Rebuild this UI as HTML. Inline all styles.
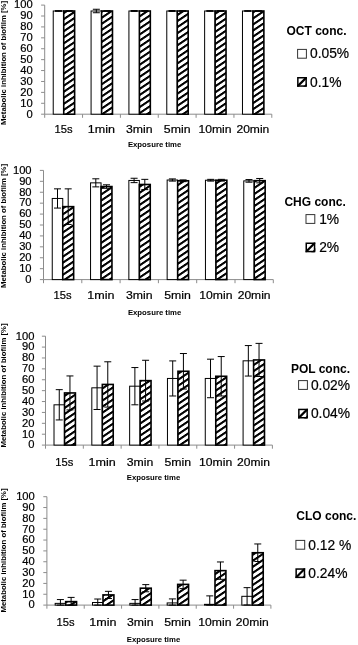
<!DOCTYPE html>
<html><head><meta charset="utf-8"><title>Metabolic inhibition of biofilm</title>
<style>
html,body{margin:0;padding:0;background:#fff;}
body{width:358px;height:645px;overflow:hidden;}
svg{display:block;}
text{font-family:"Liberation Sans",Arial,sans-serif;fill:#000;}
.axis line{stroke:#8c8c8c;stroke-width:1;}
.tick text{font-size:11.2px;stroke:#000;stroke-width:0.2px;}
.cat{font-size:11.2px;stroke:#000;stroke-width:0.2px;}
.axt{font-size:7.75px;font-weight:bold;}
.lt{font-size:12.0px;font-weight:bold;}
.ll{font-size:13.8px;stroke:#000;stroke-width:0.2px;}
.wb{fill:#fff;stroke:#000;stroke-width:1;}
.hb{stroke:#000;stroke-width:1.6;}
.eb{fill:none;stroke:#000;stroke-width:1;}
.lsq1{fill:#fff;stroke:#333;stroke-width:1;}
</style></head>
<body>
<svg width="358" height="645" viewBox="0 0 358 645">
<defs>
<pattern id="hatch0" patternUnits="userSpaceOnUse" width="10" height="6.05" patternTransform="skewY(-34.019) translate(0 0.450)"><rect width="10" height="6.05" fill="#fff"/><rect width="10" height="2.5" fill="#000"/></pattern>
<pattern id="hatch1" patternUnits="userSpaceOnUse" width="10" height="6.05" patternTransform="skewY(-34.019) translate(0 1.400)"><rect width="10" height="6.05" fill="#fff"/><rect width="10" height="2.5" fill="#000"/></pattern>
<pattern id="hatch2" patternUnits="userSpaceOnUse" width="10" height="6.05" patternTransform="skewY(-34.019) translate(0 2.620)"><rect width="10" height="6.05" fill="#fff"/><rect width="10" height="2.5" fill="#000"/></pattern>
<pattern id="hatch3" patternUnits="userSpaceOnUse" width="10" height="6.05" patternTransform="skewY(-34.019) translate(0 4.150)"><rect width="10" height="6.05" fill="#fff"/><rect width="10" height="2.5" fill="#000"/></pattern>
</defs>
<rect width="358" height="645" fill="#fff"/>
<g class="axis">
<line x1="44.7" y1="5.1" x2="44.7" y2="114.2"/>
<line x1="44.7" y1="114.2" x2="271.8" y2="114.2"/>
<line x1="41.1" y1="114.2" x2="44.7" y2="114.2"/>
<line x1="41.1" y1="103.29" x2="44.7" y2="103.29"/>
<line x1="41.1" y1="92.38" x2="44.7" y2="92.38"/>
<line x1="41.1" y1="81.47" x2="44.7" y2="81.47"/>
<line x1="41.1" y1="70.56" x2="44.7" y2="70.56"/>
<line x1="41.1" y1="59.65" x2="44.7" y2="59.65"/>
<line x1="41.1" y1="48.74" x2="44.7" y2="48.74"/>
<line x1="41.1" y1="37.83" x2="44.7" y2="37.83"/>
<line x1="41.1" y1="26.92" x2="44.7" y2="26.92"/>
<line x1="41.1" y1="16.01" x2="44.7" y2="16.01"/>
<line x1="41.1" y1="5.1" x2="44.7" y2="5.1"/>
<line x1="44.7" y1="114.2" x2="44.7" y2="117.8"/>
<line x1="82.55" y1="114.2" x2="82.55" y2="117.8"/>
<line x1="120.4" y1="114.2" x2="120.4" y2="117.8"/>
<line x1="158.25" y1="114.2" x2="158.25" y2="117.8"/>
<line x1="196.1" y1="114.2" x2="196.1" y2="117.8"/>
<line x1="233.95" y1="114.2" x2="233.95" y2="117.8"/>
<line x1="271.8" y1="114.2" x2="271.8" y2="117.8"/>
</g>
<g class="tick" text-anchor="end">
<text x="32.7" y="117.5">0</text>
<text x="32.7" y="106.59">10</text>
<text x="32.7" y="95.68">20</text>
<text x="32.7" y="84.77">30</text>
<text x="32.7" y="73.86">40</text>
<text x="32.7" y="62.95">50</text>
<text x="32.7" y="52.04">60</text>
<text x="32.7" y="41.13">70</text>
<text x="32.7" y="30.22">80</text>
<text x="32.7" y="19.31">90</text>
<text x="32.7" y="8.4">100</text>
</g>
<rect class="wb" x="53.23" y="10.99" width="10.5" height="103.21"/>
<rect class="hb" fill="url(#hatch0)" x="63.73" y="10.99" width="10.9" height="103.21"/>
<path class="eb" d="M58.48 10.66V11.32M54.98 10.66H61.98M54.98 11.32H61.98"/>
<path class="eb" d="M69.17 10.66V11.32M65.67 10.66H72.67M65.67 11.32H72.67"/>
<text class="cat" x="63.62" y="133.1" text-anchor="middle" textLength="18.1" lengthAdjust="spacingAndGlyphs">15s</text>
<rect class="wb" x="91.08" y="10.99" width="10.5" height="103.21"/>
<rect class="hb" fill="url(#hatch0)" x="101.58" y="10.99" width="10.9" height="103.21"/>
<path class="eb" d="M96.33 9.25V12.74M92.83 9.25H99.83M92.83 12.74H99.83"/>
<path class="eb" d="M107.03 10.66V11.32M103.53 10.66H110.53M103.53 11.32H110.53"/>
<text class="cat" x="101.48" y="133.1" text-anchor="middle" textLength="27.2" lengthAdjust="spacingAndGlyphs">1min</text>
<rect class="wb" x="128.92" y="10.99" width="10.5" height="103.21"/>
<rect class="hb" fill="url(#hatch0)" x="139.42" y="10.99" width="10.9" height="103.21"/>
<path class="eb" d="M134.17 10.55V11.43M130.67 10.55H137.67M130.67 11.43H137.67"/>
<path class="eb" d="M144.87 10.66V11.32M141.37 10.66H148.37M141.37 11.32H148.37"/>
<text class="cat" x="139.32" y="133.1" text-anchor="middle" textLength="26.6" lengthAdjust="spacingAndGlyphs">3min</text>
<rect class="wb" x="166.78" y="10.99" width="10.5" height="103.21"/>
<rect class="hb" fill="url(#hatch0)" x="177.28" y="10.99" width="10.9" height="103.21"/>
<path class="eb" d="M172.03 10.55V11.43M168.53 10.55H175.53M168.53 11.43H175.53"/>
<path class="eb" d="M182.72 10.66V11.32M179.22 10.66H186.22M179.22 11.32H186.22"/>
<text class="cat" x="177.18" y="133.1" text-anchor="middle" textLength="26.7" lengthAdjust="spacingAndGlyphs">5min</text>
<rect class="wb" x="204.63" y="10.99" width="10.5" height="103.21"/>
<rect class="hb" fill="url(#hatch0)" x="215.13" y="10.99" width="10.9" height="103.21"/>
<path class="eb" d="M209.88 10.66V11.32M206.38 10.66H213.38M206.38 11.32H213.38"/>
<path class="eb" d="M220.58 10.66V11.32M217.08 10.66H224.08M217.08 11.32H224.08"/>
<text class="cat" x="215.03" y="133.1" text-anchor="middle" textLength="33.2" lengthAdjust="spacingAndGlyphs">10min</text>
<rect class="wb" x="242.47" y="10.99" width="10.5" height="103.21"/>
<rect class="hb" fill="url(#hatch0)" x="252.97" y="10.99" width="10.9" height="103.21"/>
<path class="eb" d="M247.72 10.66V11.32M244.22 10.66H251.22M244.22 11.32H251.22"/>
<path class="eb" d="M258.43 10.66V11.32M254.93 10.66H261.93M254.93 11.32H261.93"/>
<text class="cat" x="252.88" y="133.1" text-anchor="middle" textLength="32.9" lengthAdjust="spacingAndGlyphs">20min</text>
<text class="axt" x="154.6" y="146.9" text-anchor="middle">Exposure time</text>
<text class="axt" transform="translate(6.4 62.9) rotate(-90)" x="0" y="0" text-anchor="middle">Metabolic inhibition of biofilm [%]</text>
<text class="lt" x="286.5" y="35">OCT conc.</text>
<rect class="lsq1" x="297.6" y="49.4" width="8.8" height="8.8"/>
<clipPath id="lc0"><rect x="297.1" y="77" width="9.8" height="9.8"/></clipPath>
<rect x="297.1" y="77" width="9.8" height="9.8" fill="#fff"/>
<g clip-path="url(#lc0)" stroke="#000" stroke-width="2.2">
<line x1="311.9" y1="72" x2="292.1" y2="91.8"/>
<line x1="319.5" y1="72" x2="299.7" y2="91.8"/>
</g>
<rect x="297.85" y="77.75" width="8.3" height="8.3" fill="none" stroke="#000" stroke-width="1.5"/>
<text class="ll" x="310" y="57.9">0.05%</text>
<text class="ll" x="310" y="86.5">0.1%</text>
<g class="axis">
<line x1="43.5" y1="170.4" x2="43.5" y2="279.6"/>
<line x1="43.5" y1="279.6" x2="273.3" y2="279.6"/>
<line x1="39.9" y1="279.6" x2="43.5" y2="279.6"/>
<line x1="39.9" y1="268.68" x2="43.5" y2="268.68"/>
<line x1="39.9" y1="257.76" x2="43.5" y2="257.76"/>
<line x1="39.9" y1="246.84" x2="43.5" y2="246.84"/>
<line x1="39.9" y1="235.92" x2="43.5" y2="235.92"/>
<line x1="39.9" y1="225" x2="43.5" y2="225"/>
<line x1="39.9" y1="214.08" x2="43.5" y2="214.08"/>
<line x1="39.9" y1="203.16" x2="43.5" y2="203.16"/>
<line x1="39.9" y1="192.24" x2="43.5" y2="192.24"/>
<line x1="39.9" y1="181.32" x2="43.5" y2="181.32"/>
<line x1="39.9" y1="170.4" x2="43.5" y2="170.4"/>
<line x1="43.5" y1="279.6" x2="43.5" y2="283.2"/>
<line x1="81.8" y1="279.6" x2="81.8" y2="283.2"/>
<line x1="120.1" y1="279.6" x2="120.1" y2="283.2"/>
<line x1="158.4" y1="279.6" x2="158.4" y2="283.2"/>
<line x1="196.7" y1="279.6" x2="196.7" y2="283.2"/>
<line x1="235" y1="279.6" x2="235" y2="283.2"/>
<line x1="273.3" y1="279.6" x2="273.3" y2="283.2"/>
</g>
<g class="tick" text-anchor="end">
<text x="31.6" y="282.9">0</text>
<text x="31.6" y="271.98">10</text>
<text x="31.6" y="261.06">20</text>
<text x="31.6" y="250.14">30</text>
<text x="31.6" y="239.22">40</text>
<text x="31.6" y="228.3">50</text>
<text x="31.6" y="217.38">60</text>
<text x="31.6" y="206.46">70</text>
<text x="31.6" y="195.54">80</text>
<text x="31.6" y="184.62">90</text>
<text x="31.6" y="173.7">100</text>
</g>
<rect class="wb" x="52.25" y="198.46" width="10.5" height="81.14"/>
<rect class="hb" fill="url(#hatch1)" x="62.75" y="206.65" width="10.9" height="72.95"/>
<path class="eb" d="M57.5 188.85V208.07M54 188.85H61M54 208.07H61"/>
<path class="eb" d="M68.2 188.85V224.45M64.7 188.85H71.7M64.7 224.45H71.7"/>
<text class="cat" x="62.65" y="299.2" text-anchor="middle" textLength="18.1" lengthAdjust="spacingAndGlyphs">15s</text>
<rect class="wb" x="90.55" y="182.85" width="10.5" height="96.75"/>
<rect class="hb" fill="url(#hatch1)" x="101.05" y="186.56" width="10.9" height="93.04"/>
<path class="eb" d="M95.8 178.81V186.89M92.3 178.81H99.3M92.3 186.89H99.3"/>
<path class="eb" d="M106.5 184.81V188.31M103 184.81H110M103 188.31H110"/>
<text class="cat" x="100.95" y="299.2" text-anchor="middle" textLength="27.2" lengthAdjust="spacingAndGlyphs">1min</text>
<rect class="wb" x="128.85" y="180.45" width="10.5" height="99.15"/>
<rect class="hb" fill="url(#hatch1)" x="139.35" y="184.49" width="10.9" height="95.11"/>
<path class="eb" d="M134.1 178.26V182.63M130.6 178.26H137.6M130.6 182.63H137.6"/>
<path class="eb" d="M144.8 179.35V189.62M141.3 179.35H148.3M141.3 189.62H148.3"/>
<text class="cat" x="139.25" y="299.2" text-anchor="middle" textLength="26.6" lengthAdjust="spacingAndGlyphs">3min</text>
<rect class="wb" x="167.15" y="180.01" width="10.5" height="99.59"/>
<rect class="hb" fill="url(#hatch1)" x="177.65" y="180.77" width="10.9" height="98.83"/>
<path class="eb" d="M172.4 178.92V181.1M168.9 178.92H175.9M168.9 181.1H175.9"/>
<path class="eb" d="M183.1 179.9V181.65M179.6 179.9H186.6M179.6 181.65H186.6"/>
<text class="cat" x="177.55" y="299.2" text-anchor="middle" textLength="26.7" lengthAdjust="spacingAndGlyphs">5min</text>
<rect class="wb" x="205.45" y="180.23" width="10.5" height="99.37"/>
<rect class="hb" fill="url(#hatch1)" x="215.95" y="180.23" width="10.9" height="99.37"/>
<path class="eb" d="M210.7 179.35V181.1M207.2 179.35H214.2M207.2 181.1H214.2"/>
<path class="eb" d="M221.4 179.35V181.1M217.9 179.35H224.9M217.9 181.1H224.9"/>
<text class="cat" x="215.85" y="299.2" text-anchor="middle" textLength="33.2" lengthAdjust="spacingAndGlyphs">10min</text>
<rect class="wb" x="243.75" y="180.88" width="10.5" height="98.72"/>
<rect class="hb" fill="url(#hatch1)" x="254.25" y="180.66" width="10.9" height="98.94"/>
<path class="eb" d="M249 179.57V182.19M245.5 179.57H252.5M245.5 182.19H252.5"/>
<path class="eb" d="M259.7 178.48V182.85M256.2 178.48H263.2M256.2 182.85H263.2"/>
<text class="cat" x="254.15" y="299.2" text-anchor="middle" textLength="32.9" lengthAdjust="spacingAndGlyphs">20min</text>
<text class="axt" x="154.6" y="315.2" text-anchor="middle">Exposure time</text>
<text class="axt" transform="translate(6.4 225.9) rotate(-90)" x="0" y="0" text-anchor="middle">Metabolic inhibition of biofilm [%]</text>
<text class="lt" x="284.4" y="205.5">CHG conc.</text>
<rect class="lsq1" x="306" y="214.6" width="8.8" height="8.8"/>
<clipPath id="lc1"><rect x="305.5" y="242.5" width="9.8" height="9.8"/></clipPath>
<rect x="305.5" y="242.5" width="9.8" height="9.8" fill="#fff"/>
<g clip-path="url(#lc1)" stroke="#000" stroke-width="2.2">
<line x1="320.3" y1="237.5" x2="300.5" y2="257.3"/>
<line x1="327.9" y1="237.5" x2="308.1" y2="257.3"/>
</g>
<rect x="306.25" y="243.25" width="8.3" height="8.3" fill="none" stroke="#000" stroke-width="1.5"/>
<text class="ll" x="319.2" y="224">1%</text>
<text class="ll" x="319.2" y="252.3">2%</text>
<g class="axis">
<line x1="45.5" y1="336.2" x2="45.5" y2="445.1"/>
<line x1="45.5" y1="445.1" x2="272.4" y2="445.1"/>
<line x1="41.9" y1="445.1" x2="45.5" y2="445.1"/>
<line x1="41.9" y1="434.21" x2="45.5" y2="434.21"/>
<line x1="41.9" y1="423.32" x2="45.5" y2="423.32"/>
<line x1="41.9" y1="412.43" x2="45.5" y2="412.43"/>
<line x1="41.9" y1="401.54" x2="45.5" y2="401.54"/>
<line x1="41.9" y1="390.65" x2="45.5" y2="390.65"/>
<line x1="41.9" y1="379.76" x2="45.5" y2="379.76"/>
<line x1="41.9" y1="368.87" x2="45.5" y2="368.87"/>
<line x1="41.9" y1="357.98" x2="45.5" y2="357.98"/>
<line x1="41.9" y1="347.09" x2="45.5" y2="347.09"/>
<line x1="41.9" y1="336.2" x2="45.5" y2="336.2"/>
<line x1="45.5" y1="445.1" x2="45.5" y2="448.7"/>
<line x1="83.32" y1="445.1" x2="83.32" y2="448.7"/>
<line x1="121.13" y1="445.1" x2="121.13" y2="448.7"/>
<line x1="158.95" y1="445.1" x2="158.95" y2="448.7"/>
<line x1="196.77" y1="445.1" x2="196.77" y2="448.7"/>
<line x1="234.58" y1="445.1" x2="234.58" y2="448.7"/>
<line x1="272.4" y1="445.1" x2="272.4" y2="448.7"/>
</g>
<g class="tick" text-anchor="end">
<text x="34.4" y="448.4">0</text>
<text x="34.4" y="437.51">10</text>
<text x="34.4" y="426.62">20</text>
<text x="34.4" y="415.73">30</text>
<text x="34.4" y="404.84">40</text>
<text x="34.4" y="393.95">50</text>
<text x="34.4" y="383.06">60</text>
<text x="34.4" y="372.17">70</text>
<text x="34.4" y="361.28">80</text>
<text x="34.4" y="350.39">90</text>
<text x="34.4" y="339.5">100</text>
</g>
<rect class="wb" x="54.01" y="404.81" width="10.5" height="40.29"/>
<rect class="hb" fill="url(#hatch2)" x="64.51" y="392.94" width="10.9" height="52.16"/>
<path class="eb" d="M59.26 389.67V419.94M55.76 389.67H62.76M55.76 419.94H62.76"/>
<path class="eb" d="M69.96 375.95V409.93M66.46 375.95H73.46M66.46 409.93H73.46"/>
<text class="cat" x="64.41" y="465.7" text-anchor="middle" textLength="18.1" lengthAdjust="spacingAndGlyphs">15s</text>
<rect class="wb" x="91.82" y="387.82" width="10.5" height="57.28"/>
<rect class="hb" fill="url(#hatch2)" x="102.32" y="384.44" width="10.9" height="60.66"/>
<path class="eb" d="M97.07 366.15V409.49M93.57 366.15H100.57M93.57 409.49H100.57"/>
<path class="eb" d="M107.77 361.79V407.09M104.27 361.79H111.27M104.27 407.09H111.27"/>
<text class="cat" x="102.22" y="465.7" text-anchor="middle" textLength="27.2" lengthAdjust="spacingAndGlyphs">1min</text>
<rect class="wb" x="129.64" y="386.19" width="10.5" height="58.91"/>
<rect class="hb" fill="url(#hatch2)" x="140.14" y="380.63" width="10.9" height="64.47"/>
<path class="eb" d="M134.89 367.56V404.81M131.39 367.56H138.39M131.39 404.81H138.39"/>
<path class="eb" d="M145.59 360.27V401M142.09 360.27H149.09M142.09 401H149.09"/>
<text class="cat" x="140.04" y="465.7" text-anchor="middle" textLength="26.6" lengthAdjust="spacingAndGlyphs">3min</text>
<rect class="wb" x="167.46" y="378.45" width="10.5" height="66.65"/>
<rect class="hb" fill="url(#hatch2)" x="177.96" y="371.27" width="10.9" height="73.83"/>
<path class="eb" d="M172.71 360.92V395.99M169.21 360.92H176.21M169.21 395.99H176.21"/>
<path class="eb" d="M183.41 353.52V389.02M179.91 353.52H186.91M179.91 389.02H186.91"/>
<text class="cat" x="177.86" y="465.7" text-anchor="middle" textLength="26.7" lengthAdjust="spacingAndGlyphs">5min</text>
<rect class="wb" x="205.27" y="378.45" width="10.5" height="66.65"/>
<rect class="hb" fill="url(#hatch2)" x="215.77" y="376.28" width="10.9" height="68.82"/>
<path class="eb" d="M210.52 359.18V397.73M207.02 359.18H214.02M207.02 397.73H214.02"/>
<path class="eb" d="M221.22 356.56V395.99M217.72 356.56H224.72M217.72 395.99H224.72"/>
<text class="cat" x="215.67" y="465.7" text-anchor="middle" textLength="33.2" lengthAdjust="spacingAndGlyphs">10min</text>
<rect class="wb" x="243.09" y="360.81" width="10.5" height="84.29"/>
<rect class="hb" fill="url(#hatch2)" x="253.59" y="359.94" width="10.9" height="85.16"/>
<path class="eb" d="M248.34 345.57V376.06M244.84 345.57H251.84M244.84 376.06H251.84"/>
<path class="eb" d="M259.04 343.39V376.49M255.54 343.39H262.54M255.54 376.49H262.54"/>
<text class="cat" x="253.49" y="465.7" text-anchor="middle" textLength="32.9" lengthAdjust="spacingAndGlyphs">20min</text>
<text class="axt" x="153.5" y="480.2" text-anchor="middle">Exposure time</text>
<text class="axt" transform="translate(6.4 385.5) rotate(-90)" x="0" y="0" text-anchor="middle">Metabolic inhibition of biofilm [%]</text>
<text class="lt" x="290.9" y="373.3">POL conc.</text>
<rect class="lsq1" x="298.6" y="380.6" width="8.8" height="8.8"/>
<clipPath id="lc2"><rect x="298.1" y="408.7" width="9.8" height="9.8"/></clipPath>
<rect x="298.1" y="408.7" width="9.8" height="9.8" fill="#fff"/>
<g clip-path="url(#lc2)" stroke="#000" stroke-width="2.2">
<line x1="312.9" y1="403.7" x2="293.1" y2="423.5"/>
<line x1="320.5" y1="403.7" x2="300.7" y2="423.5"/>
</g>
<rect x="298.85" y="409.45" width="8.3" height="8.3" fill="none" stroke="#000" stroke-width="1.5"/>
<text class="ll" x="310.9" y="389.7">0.02%</text>
<text class="ll" x="310.9" y="418.4">0.04%</text>
<g class="axis">
<line x1="46.9" y1="496.7" x2="46.9" y2="605.1"/>
<line x1="46.9" y1="605.1" x2="270.9" y2="605.1"/>
<line x1="43.3" y1="605.1" x2="46.9" y2="605.1"/>
<line x1="43.3" y1="594.26" x2="46.9" y2="594.26"/>
<line x1="43.3" y1="583.42" x2="46.9" y2="583.42"/>
<line x1="43.3" y1="572.58" x2="46.9" y2="572.58"/>
<line x1="43.3" y1="561.74" x2="46.9" y2="561.74"/>
<line x1="43.3" y1="550.9" x2="46.9" y2="550.9"/>
<line x1="43.3" y1="540.06" x2="46.9" y2="540.06"/>
<line x1="43.3" y1="529.22" x2="46.9" y2="529.22"/>
<line x1="43.3" y1="518.38" x2="46.9" y2="518.38"/>
<line x1="43.3" y1="507.54" x2="46.9" y2="507.54"/>
<line x1="43.3" y1="496.7" x2="46.9" y2="496.7"/>
<line x1="46.9" y1="605.1" x2="46.9" y2="608.7"/>
<line x1="84.23" y1="605.1" x2="84.23" y2="608.7"/>
<line x1="121.57" y1="605.1" x2="121.57" y2="608.7"/>
<line x1="158.9" y1="605.1" x2="158.9" y2="608.7"/>
<line x1="196.23" y1="605.1" x2="196.23" y2="608.7"/>
<line x1="233.57" y1="605.1" x2="233.57" y2="608.7"/>
<line x1="270.9" y1="605.1" x2="270.9" y2="608.7"/>
</g>
<g class="tick" text-anchor="end">
<text x="34.8" y="608.4">0</text>
<text x="34.8" y="597.56">10</text>
<text x="34.8" y="586.72">20</text>
<text x="34.8" y="575.88">30</text>
<text x="34.8" y="565.04">40</text>
<text x="34.8" y="554.2">50</text>
<text x="34.8" y="543.36">60</text>
<text x="34.8" y="532.52">70</text>
<text x="34.8" y="521.68">80</text>
<text x="34.8" y="510.84">90</text>
<text x="34.8" y="500">100</text>
</g>
<rect class="wb" x="55.17" y="603.37" width="10.5" height="1.73"/>
<rect class="hb" fill="url(#hatch3)" x="65.67" y="601.63" width="10.9" height="3.47"/>
<path class="eb" d="M60.42 599.57V605.1M56.92 599.57H63.92M56.92 605.1H63.92"/>
<path class="eb" d="M71.12 597.4V605.1M67.62 597.4H74.62M67.62 605.1H74.62"/>
<text class="cat" x="65.57" y="625.7" text-anchor="middle" textLength="18.1" lengthAdjust="spacingAndGlyphs">15s</text>
<rect class="wb" x="92.5" y="602.5" width="10.5" height="2.6"/>
<rect class="hb" fill="url(#hatch3)" x="103" y="594.91" width="10.9" height="10.19"/>
<path class="eb" d="M97.75 599.03V605.1M94.25 599.03H101.25M94.25 605.1H101.25"/>
<path class="eb" d="M108.45 591.33V598.49M104.95 591.33H111.95M104.95 598.49H111.95"/>
<text class="cat" x="102.9" y="625.7" text-anchor="middle" textLength="27.2" lengthAdjust="spacingAndGlyphs">1min</text>
<rect class="wb" x="129.83" y="603.37" width="10.5" height="1.73"/>
<rect class="hb" fill="url(#hatch3)" x="140.33" y="588.19" width="10.9" height="16.91"/>
<path class="eb" d="M135.08 599.57V605.1M131.58 599.57H138.58M131.58 605.1H138.58"/>
<path class="eb" d="M145.78 584.61V591.77M142.28 584.61H149.28M142.28 591.77H149.28"/>
<text class="cat" x="140.23" y="625.7" text-anchor="middle" textLength="26.6" lengthAdjust="spacingAndGlyphs">3min</text>
<rect class="wb" x="167.17" y="602.93" width="10.5" height="2.17"/>
<rect class="hb" fill="url(#hatch3)" x="177.67" y="584.4" width="10.9" height="20.7"/>
<path class="eb" d="M172.42 598.92V605.1M168.92 598.92H175.92M168.92 605.1H175.92"/>
<path class="eb" d="M183.12 580.17V588.62M179.62 580.17H186.62M179.62 588.62H186.62"/>
<text class="cat" x="177.57" y="625.7" text-anchor="middle" textLength="26.7" lengthAdjust="spacingAndGlyphs">5min</text>
<rect class="wb" x="204.5" y="604.34" width="10.5" height="0.76"/>
<rect class="hb" fill="url(#hatch3)" x="215" y="570.63" width="10.9" height="34.47"/>
<path class="eb" d="M209.75 595.89V605.1M206.25 595.89H213.25M206.25 605.1H213.25"/>
<path class="eb" d="M220.45 561.96V579.3M216.95 561.96H223.95M216.95 579.3H223.95"/>
<text class="cat" x="214.9" y="625.7" text-anchor="middle" textLength="33.2" lengthAdjust="spacingAndGlyphs">10min</text>
<rect class="wb" x="241.83" y="596.32" width="10.5" height="8.78"/>
<rect class="hb" fill="url(#hatch3)" x="252.33" y="552.74" width="10.9" height="52.36"/>
<path class="eb" d="M247.08 587.65V604.99M243.58 587.65H250.58M243.58 604.99H250.58"/>
<path class="eb" d="M257.78 543.96V561.52M254.28 543.96H261.28M254.28 561.52H261.28"/>
<text class="cat" x="252.23" y="625.7" text-anchor="middle" textLength="32.9" lengthAdjust="spacingAndGlyphs">20min</text>
<text class="axt" x="153.5" y="642" text-anchor="middle">Exposure time</text>
<text class="axt" transform="translate(6.4 550.5) rotate(-90)" x="0" y="0" text-anchor="middle">Metabolic inhibition of biofilm [%]</text>
<text class="lt" x="296.3" y="520.3">CLO conc.</text>
<rect class="lsq1" x="295.9" y="540.4" width="8.8" height="8.8"/>
<clipPath id="lc3"><rect x="295.4" y="568.3" width="9.8" height="9.8"/></clipPath>
<rect x="295.4" y="568.3" width="9.8" height="9.8" fill="#fff"/>
<g clip-path="url(#lc3)" stroke="#000" stroke-width="2.2">
<line x1="310.2" y1="563.3" x2="290.4" y2="583.1"/>
<line x1="317.8" y1="563.3" x2="298" y2="583.1"/>
</g>
<rect x="296.15" y="569.05" width="8.3" height="8.3" fill="none" stroke="#000" stroke-width="1.5"/>
<text class="ll" x="308.3" y="549.7">0.12 %</text>
<text class="ll" x="308.3" y="577.8">0.24%</text>
</svg>
</body></html>
